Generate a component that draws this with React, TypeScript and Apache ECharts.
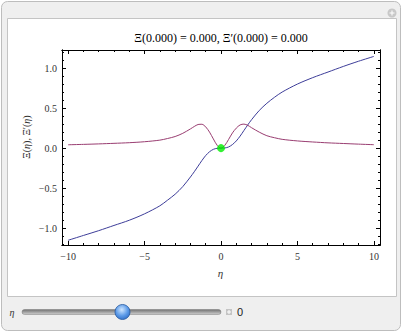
import React, { useEffect, useRef } from "react";
import * as echarts from "echarts";

const etaValues = [-10, -9, -8, -7, -6, -5, -4, -3.5, -3, -2.5, -2, -1.75, -1.5, -1.25, -1, -0.75, -0.5, -0.25, 0, 0.25, 0.5, 0.75, 1, 1.25, 1.5, 1.75, 2, 2.5, 3, 3.5, 4, 5, 6, 7, 8, 9, 10];
const xiValues = [-1.15, -1.09, -1.03, -0.965, -0.9, -0.82, -0.72, -0.65, -0.575, -0.48, -0.36, -0.295, -0.225, -0.155, -0.092, -0.045, -0.015, -0.002, 0, 0.002, 0.015, 0.045, 0.09, 0.15, 0.22, 0.29, 0.355, 0.47, 0.56, 0.635, 0.7, 0.8, 0.88, 0.95, 1.02, 1.085, 1.145];
const xiPrimeValues = [0.042, 0.047, 0.053, 0.06, 0.068, 0.08, 0.1, 0.12, 0.145, 0.185, 0.24, 0.27, 0.295, 0.298, 0.265, 0.2, 0.115, 0.035, 0, 0.035, 0.11, 0.19, 0.25, 0.29, 0.3, 0.285, 0.255, 0.2, 0.155, 0.13, 0.11, 0.09, 0.077, 0.066, 0.058, 0.05, 0.043];
const markerPoint = [0, 0];
const xMajorTicks = [-10, -5, 0, 5, 10];
const xMinorTicks = [-10, -9, -8, -7, -6, -5, -4, -3, -2, -1, 0, 1, 2, 3, 4, 5, 6, 7, 8, 9, 10];
const yMajorTicks = [-1, -0.5, 0, 0.5, 1];
const yMinorTicks = [-1.2, -1.1, -1, -0.9, -0.8, -0.7, -0.6, -0.5, -0.4, -0.3, -0.2, -0.1, 0, 0.1, 0.2, 0.3, 0.4, 0.5, 0.6, 0.7, 0.8, 0.9, 1, 1.1, 1.2];
const titleText = "Ξ(0.000) = 0.000, Ξ′(0.000) = 0.000";
const sliderValue = "0";

const X_MIN = -10.4, X_MAX = 10.4, Y_MIN = -1.209, Y_MAX = 1.225;
const SERIF = "'Liberation Serif', 'DejaVu Serif', serif";

const fmtMinus = (s: string) => s.replace("-", "−");

function makeX(pos: "top" | "bottom", ticks: number[], len: number, labels: boolean) {
  return {
    type: "value",
    position: pos,
    min: X_MIN,
    max: X_MAX,
    splitLine: { show: false },
    axisLine: { show: true, onZero: false, lineStyle: { color: "#000", width: 1 } },
    axisTick: { show: true, inside: true, length: len, customValues: ticks, lineStyle: { color: "#000", width: 1 } },
    axisLabel: labels
      ? { show: true, customValues: ticks, margin: 6, fontFamily: SERIF, fontSize: 10, color: "#333", formatter: (v: number) => fmtMinus(String(v)) }
      : { show: false },
  };
}
function makeY(pos: "left" | "right", ticks: number[], len: number, labels: boolean) {
  return {
    type: "value",
    position: pos,
    min: Y_MIN,
    max: Y_MAX,
    splitLine: { show: false },
    axisLine: { show: true, onZero: false, lineStyle: { color: "#000", width: 1 } },
    axisTick: { show: true, inside: true, length: len, customValues: ticks, lineStyle: { color: "#000", width: 1 } },
    axisLabel: labels
      ? { show: true, customValues: ticks, margin: 5, fontFamily: SERIF, fontSize: 10, color: "#333", formatter: (v: number) => (v < 0 ? "−" : "") + Math.abs(v).toFixed(1) }
      : { show: false },
  };
}

export default function App() {
  const ref = useRef<HTMLDivElement>(null);
  useEffect(() => {
    if (!ref.current) return;
    const chart = echarts.init(ref.current, null, { renderer: "svg" });
    const xiData = etaValues.map((e, i) => [e, xiValues[i]]);
    const xipData = etaValues.map((e, i) => [e, xiPrimeValues[i]]);
    chart.setOption({
      animation: false,
      backgroundColor: "#ffffff",
      grid: { left: 62, top: 50, width: 318, height: 195, containLabel: false },
      xAxis: [
        makeX("bottom", xMajorTicks, 4, true),
        makeX("bottom", xMinorTicks, 2, false),
        makeX("top", xMajorTicks, 4, false),
        makeX("top", xMinorTicks, 2, false),
      ],
      yAxis: [
        makeY("left", yMajorTicks, 4, true),
        makeY("left", yMinorTicks, 2, false),
        makeY("right", yMajorTicks, 4, false),
        makeY("right", yMinorTicks, 2, false),
      ],
      graphic: [
        { type: "rect", z: -10, shape: { x: 1.5, y: 1.5, width: 399, height: 329, r: 6 }, style: { fill: "#efefef", stroke: "#bdbdbd", lineWidth: 1 } },
        { type: "rect", z: -9, shape: { x: 7.5, y: 18.5, width: 389, height: 278 }, style: { fill: "#ffffff", stroke: "#c4c4c4", lineWidth: 1 } },
        { type: "circle", z: -8, shape: { cx: 392, cy: 13, r: 4.5 }, style: { fill: "#c8c8c8" } },
        { type: "rect", z: -7, shape: { x: 389.5, y: 12.5, width: 5, height: 1 }, style: { fill: "#fff" } },
        { type: "rect", z: -7, shape: { x: 391.5, y: 10.5, width: 1, height: 5 }, style: { fill: "#fff" } },
        { type: "text", x: 221, y: 38, style: { text: titleText, fontFamily: SERIF, fontSize: 12, fill: "#000", align: "center", verticalAlign: "middle" } },
        { type: "text", x: 220.5, y: 273, style: { text: "η", fontFamily: SERIF, fontStyle: "italic", fontSize: 11, fill: "#333", align: "center", verticalAlign: "middle" } },
        {
          type: "text", x: 26, y: 137, rotation: Math.PI / 2,
          style: {
            text: "{n|Ξ(}{i|η}{n|), Ξ′(}{i|η}{n|)}", align: "center", verticalAlign: "middle",
            rich: {
              n: { fontFamily: SERIF, fontSize: 10, fill: "#333" },
              i: { fontFamily: SERIF, fontSize: 10, fontStyle: "italic", fill: "#333" },
            },
          },
        },
        { type: "text", x: 12, y: 312, style: { text: "η", fontFamily: SERIF, fontStyle: "italic", fontSize: 10, fill: "#333", align: "center", verticalAlign: "middle" } },
        {
          type: "rect", shape: { x: 22, y: 309.5, width: 199, height: 5, r: 2.5 },
          style: { fill: new echarts.graphic.LinearGradient(0, 0, 0, 1, [{ offset: 0, color: "#707070" }, { offset: 0.5, color: "#a0a0a0" }, { offset: 1, color: "#cfcfcf" }]), stroke: "#7a7a7a", lineWidth: 0.5 },
        },
        {
          type: "circle", shape: { cx: 122.5, cy: 312, r: 7.5 },
          style: { fill: new echarts.graphic.RadialGradient(0.45, 0.35, 0.8, [{ offset: 0, color: "#cfe6ff" }, { offset: 0.5, color: "#5d9be8" }, { offset: 1, color: "#1f5cb8" }]), stroke: "#2a5a9e", lineWidth: 0.8 },
        },
        { type: "rect", shape: { x: 226, y: 309, width: 6, height: 6 }, style: { fill: "#c4c4c4" } },
        { type: "rect", shape: { x: 227, y: 311.5, width: 4, height: 1 }, style: { fill: "#fff" } },
        { type: "rect", shape: { x: 228.5, y: 310, width: 1, height: 4 }, style: { fill: "#fff" } },
        { type: "text", x: 237, y: 312, style: { text: sliderValue, fontFamily: "'Liberation Sans', Arial, sans-serif", fontSize: 11, fill: "#222", align: "left", verticalAlign: "middle" } },
      ],
      series: [
        { type: "line", data: xiData, xAxisIndex: 0, yAxisIndex: 0, showSymbol: false, smooth: 0.3, lineStyle: { color: "#3d3d99", width: 1 }, z: 2 },
        { type: "line", data: xipData, xAxisIndex: 0, yAxisIndex: 0, showSymbol: false, smooth: 0.3, lineStyle: { color: "#993d71", width: 1 }, z: 3 },
        { type: "scatter", data: [markerPoint], xAxisIndex: 0, yAxisIndex: 0, symbolSize: 8, itemStyle: { color: "#00ee00" }, z: 4 },
      ],
    });
    return () => chart.dispose();
  }, []);
  return <div ref={ref} style={{ position: "fixed", left: 0, top: 0, width: 403, height: 333 }} />;
}
